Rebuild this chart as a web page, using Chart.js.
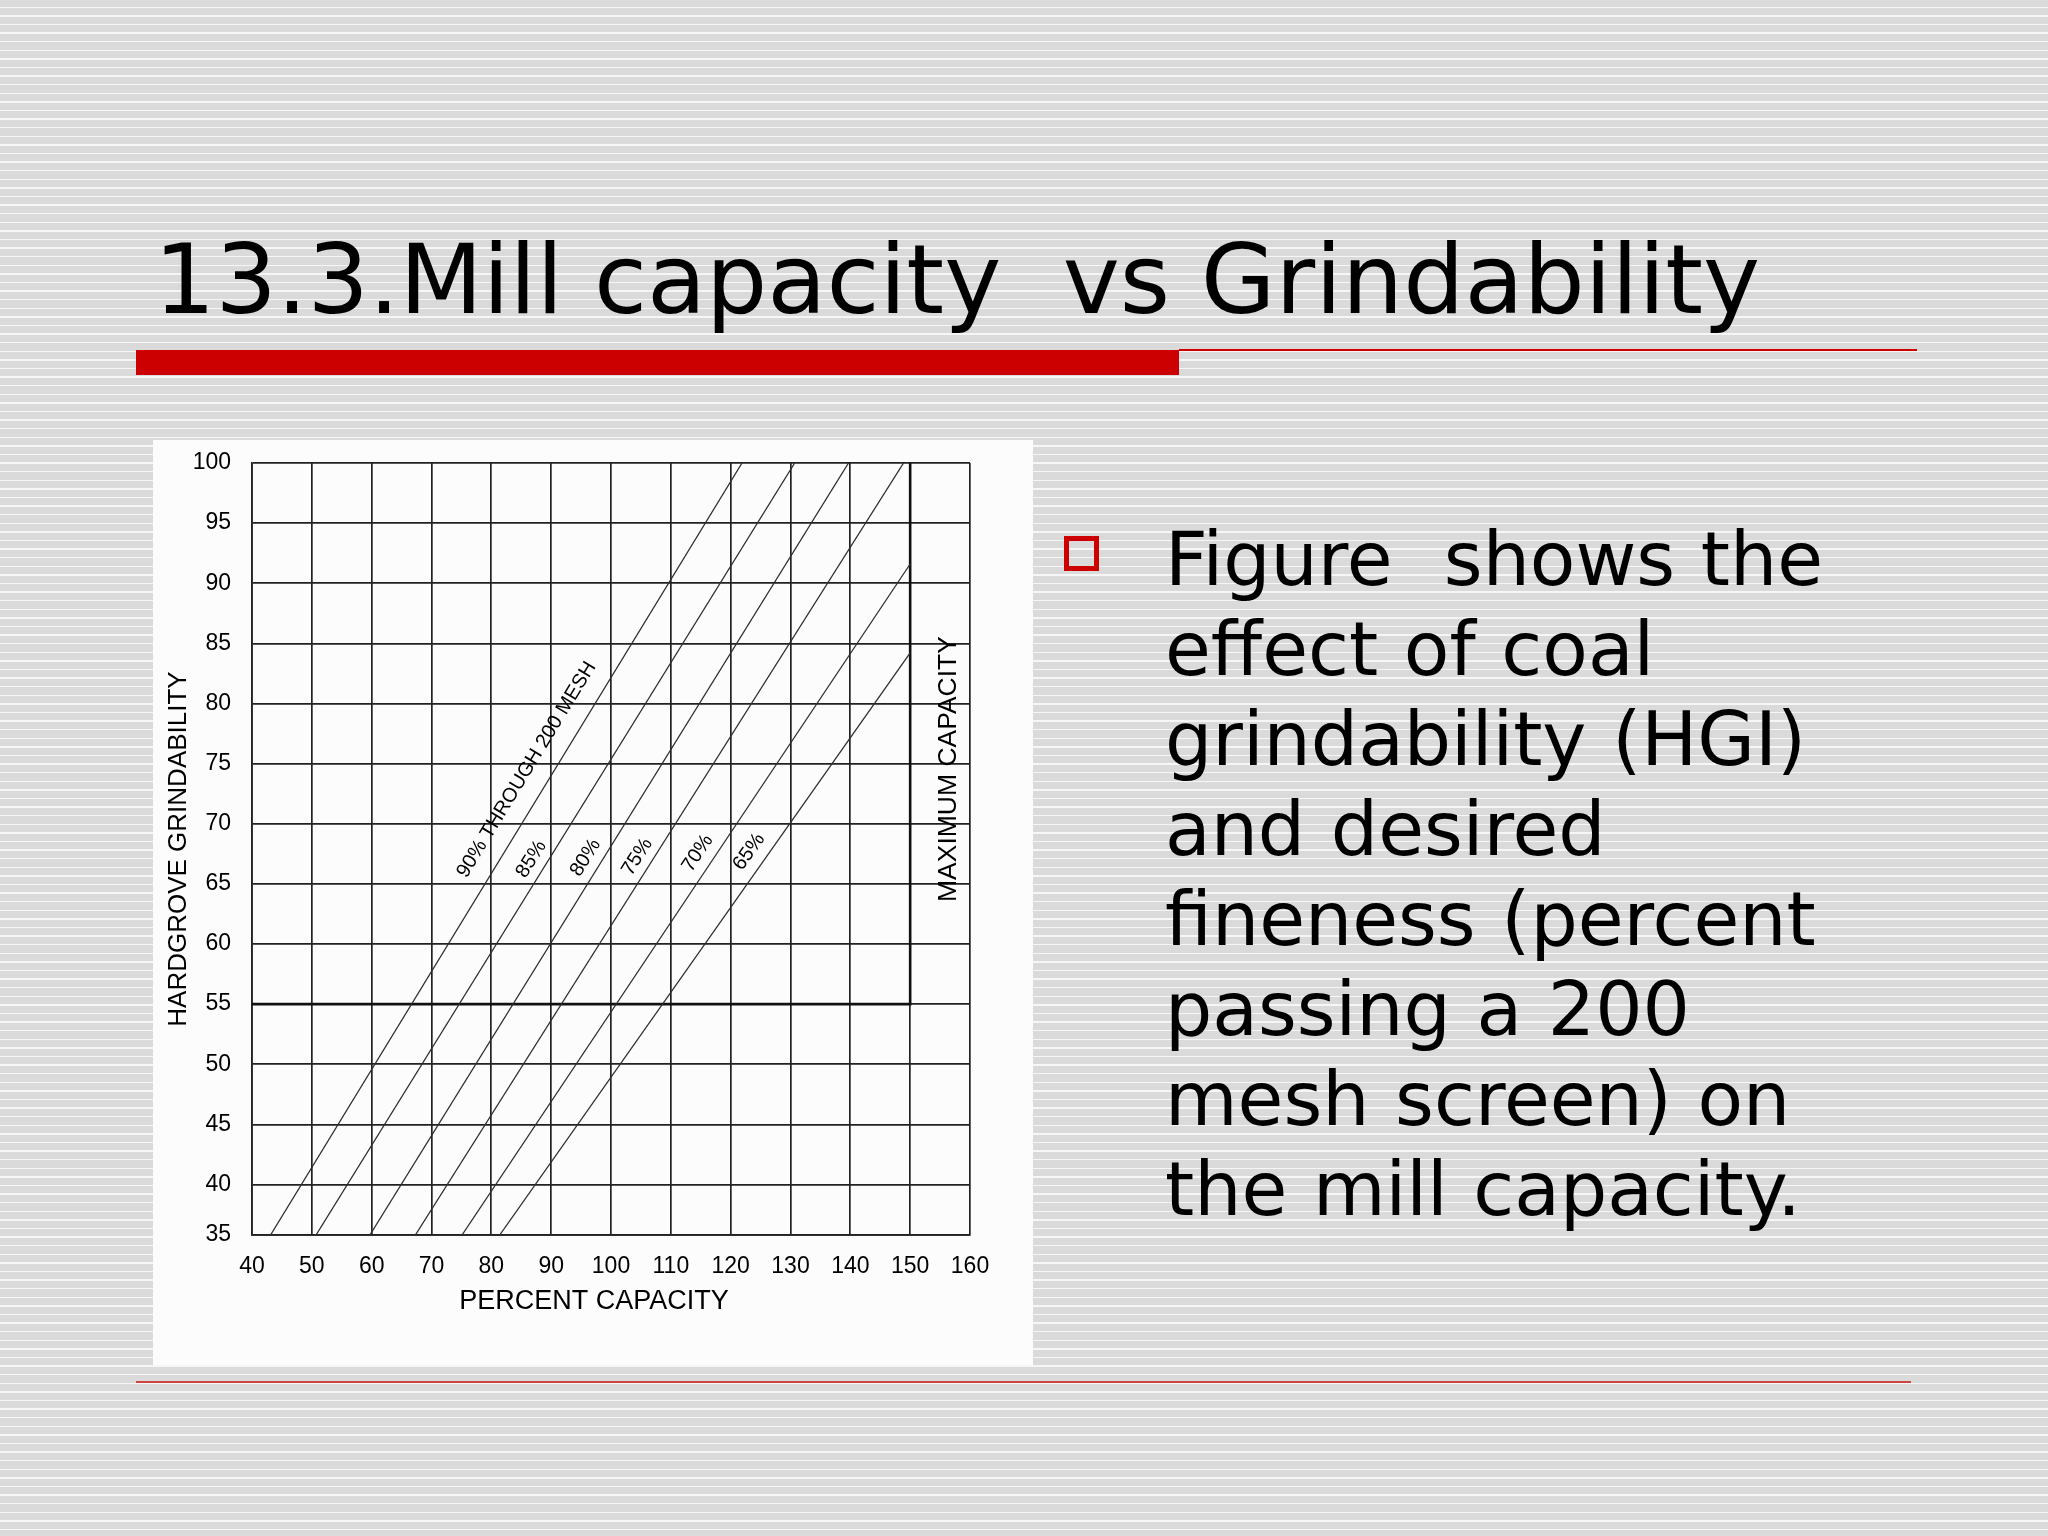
<!DOCTYPE html>
<html>
<head>
<meta charset="utf-8">
<title>Mill capacity vs Grindability</title>
<script src="https://cdn.jsdelivr.net/npm/chart.js@4.4.1/dist/chart.umd.min.js"></script>
<style>
  html, body { margin: 0; padding: 0; }
  body {
    width: 2048px; height: 1536px; position: relative; overflow: hidden;
    background: repeating-linear-gradient(to bottom,
      #dadada 0px, #dadada 6.6px, #f6f6f6 6.6px, #f6f6f6 8px, #dadada 8px, #dadada 8.6px);
    font-family: "DejaVu Sans", Verdana, sans-serif;
  }
  #title { position: absolute; left: 154px; top: 232px; font-size: 96.5px; line-height: 96px; white-space: pre; color: #000; }
  #barThick { position: absolute; left: 136px; top: 350px; width: 1043px; height: 25px; background: #cc0000; }
  #barThin { position: absolute; left: 1179px; top: 349px; width: 738px; height: 2px; background: #cc0000; }
  #bottomLine { position: absolute; left: 136px; top: 1381px; width: 1775px; height: 2px; background: #cc4444; }
  #chartBox { position: absolute; left: 153px; top: 440px; width: 880px; height: 925px; background: #fcfcfc; }
  #bullet { position: absolute; left: 1064px; top: 536px; width: 25px; height: 25px; border: 5px solid #cc0000; }
  #body { position: absolute; left: 1165px; top: 515px; font-size: 74.5px; line-height: 90px; word-spacing: 2px; white-space: pre; color: #000; }
</style>
</head>
<body>
<div id="title">13.3.Mill capacity  vs Grindability</div>
<div id="barThick"></div>
<div id="barThin"></div>

<div id="chartBox"><canvas id="chart" width="880" height="925"></canvas></div>

<div id="bullet"></div>
<div id="body">Figure  shows the
effect of coal
grindability (HGI)
and desired
fineness (percent
passing a 200
mesh screen) on
the mill capacity.</div>

<div id="bottomLine"></div>

<script>
// axis ticks
const capacityTicks = [40, 50, 60, 70, 80, 90, 100, 110, 120, 130, 140, 150, 160];
const hgiTicks = [35, 40, 45, 50, 55, 60, 65, 70, 75, 80, 85, 90, 95, 100];
// the 35 row is drawn shorter than the others in the original figure
const hgiBottom = 35.8;

// fineness lines (percent through 200 mesh), read at both ends
const fineness = ['90% THROUGH 200 MESH', '85%', '80%', '75%', '70%', '65%'];
const startCapacity = [43.1, 50.7, 59.7, 67.3, 75.1, 81.4];
const startHgi = [35.8, 35.8, 35.8, 35.8, 35.8, 35.8];
const endCapacity = [121.9, 130.7, 139.7, 148.9, 150, 150];
const endHgi = [100, 100, 100, 100, 91.6, 84.2];

// maximum capacity boundary
const maxCapCapacity = [40, 150, 150];
const maxCapHgi = [55, 55, 100];

const ink = '#000';
const chartFont = '"Liberation Sans", Arial, Helvetica, sans-serif';

const datasets = fineness.map((name, i) => ({
  label: name,
  data: [{ x: startCapacity[i], y: startHgi[i] }, { x: endCapacity[i], y: endHgi[i] }],
  borderColor: '#2e2e2e',
  borderWidth: 1.3,
  pointRadius: 0,
  showLine: true
}));
datasets.push({
  label: 'MAXIMUM CAPACITY',
  data: maxCapCapacity.map((c, i) => ({ x: c, y: maxCapHgi[i] })),
  borderColor: '#111',
  borderWidth: 2.6,
  pointRadius: 0,
  showLine: true
});

// text along the lines, the max capacity note and the x axis title
const lineLabels = {
  id: 'lineLabels',
  afterDatasetsDraw(chart, args, opts) {
    const { ctx, chartArea, scales: { x, y } } = chart;
    ctx.save();
    ctx.fillStyle = ink;
    ctx.textAlign = 'center';
    ctx.textBaseline = 'middle';
    ctx.font = '20px ' + chartFont;
    fineness.forEach((name, i) => {
      const x0 = x.getPixelForValue(startCapacity[i]), y0 = y.getPixelForValue(startHgi[i]);
      const x1 = x.getPixelForValue(endCapacity[i]), y1 = y.getPixelForValue(endHgi[i]);
      const len = Math.hypot(x1 - x0, y1 - y0);
      const dx = (x1 - x0) / len, dy = (y1 - y0) / len;
      const py = y.getPixelForValue(opts.at[i]);
      const px = x0 + (py - y0) / (y1 - y0) * (x1 - x0);
      const gap = opts.gap[i];
      ctx.save();
      ctx.translate(px + dy * gap, py - dx * gap);
      ctx.rotate(Math.atan2(dy, dx));
      ctx.fillText(name, 0, 0);
      ctx.restore();
    });

    ctx.font = '27px ' + chartFont;
    ctx.fillText('PERCENT CAPACITY', (chartArea.left + chartArea.right) / 2 - 17, chart.height - 63);

    ctx.font = '26.5px ' + chartFont;
    ctx.translate(x.getPixelForValue(156.5), y.getPixelForValue(74.55));
    ctx.rotate(-Math.PI / 2);
    ctx.fillText('MAXIMUM CAPACITY', 0, 0);
    ctx.restore();
  }
};

new Chart(document.getElementById('chart'), {
  type: 'scatter',
  data: { datasets },
  plugins: [lineLabels],
  options: {
    responsive: false,
    animation: false,
    layout: { padding: { left: 0, top: 23, right: 63, bottom: 0 } },
    plugins: {
      legend: { display: false },
      tooltip: { enabled: false },
      lineLabels: { at: [73.45, 66.4, 66.5, 66.6, 66.8, 66.85], gap: [24, 15, 15.5, 14.5, 16, 17] }
    },
    scales: {
      x: {
        type: 'linear',
        min: 40,
        max: 160,
        afterBuildTicks: s => { s.ticks = capacityTicks.map(v => ({ value: v })); },
        afterFit: s => { s.height = 130; },
        ticks: { color: ink, font: { family: chartFont, size: 23 }, padding: 18, maxRotation: 0, autoSkip: false },
        grid: { color: '#222', lineWidth: 1.7, drawTicks: false },
        border: { color: '#222', width: 1.7 },
        title: { display: false }
      },
      y: {
        type: 'linear',
        min: hgiBottom,
        max: 100,
        afterBuildTicks: s => { s.ticks = hgiTicks.map(v => ({ value: Math.max(v, hgiBottom) })); },
        // fixed width, and no extra room above/below for the end labels
        afterFit: s => { s.width = 99; s.paddingTop = 0; s.paddingBottom = 0; },
        ticks: { color: ink, font: { family: chartFont, size: 23 }, padding: 21, autoSkip: false,
                 callback: (v, i) => hgiTicks[i] },
        grid: { color: '#222', lineWidth: 1.7, drawTicks: false },
        border: { color: '#222', width: 1.7 },
        title: { display: true, text: 'HARDGROVE GRINDABILITY', color: ink,
                 font: { family: chartFont, size: 26 }, padding: { top: 10, bottom: 0 } }
      }
    }
  }
});
</script>
</body>
</html>
